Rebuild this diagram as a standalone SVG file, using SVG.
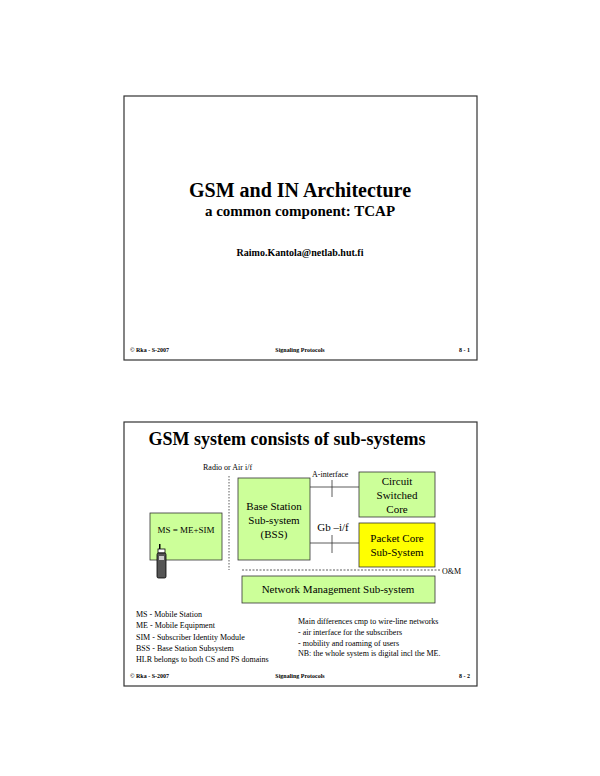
<svg xmlns="http://www.w3.org/2000/svg" width="600" height="776" viewBox="0 0 600 776">
<style>
text{font-family:"Liberation Serif",serif;fill:#000}
.frame{fill:#fff;stroke:#333;stroke-width:1.2}
.box{fill:#ccff99;stroke:#333;stroke-width:0.8}
.ft{font-size:6px;font-weight:bold}
.n{font-size:11px;text-anchor:middle}
.s{font-size:8px}
.l{stroke:#333;stroke-width:0.8;fill:none}
</style>
<rect width="600" height="776" fill="#fff"/>
<g id="slide1">
<rect class="frame" x="124" y="96" width="353" height="264"/>
<text x="300" y="197" font-size="20" font-weight="bold" text-anchor="middle">GSM and IN Architecture</text>
<text x="300" y="216" font-size="15" font-weight="bold" text-anchor="middle">a common component: TCAP</text>
<text x="300" y="256" font-size="10" font-weight="bold" text-anchor="middle">Raimo.Kantola@netlab.hut.fi</text>
<text class="ft" x="130" y="352">© Rka - S-2007</text>
<text class="ft" x="300" y="352" text-anchor="middle">Signaling Protocols</text>
<text class="ft" x="470" y="352" text-anchor="end">8 - 1</text>
</g>
<g id="slide2">
<rect class="frame" x="124" y="422" width="353" height="264"/>
<text x="287" y="445" font-size="18" font-weight="bold" text-anchor="middle">GSM system consists of sub-systems</text>
<text class="s" x="203" y="470">Radio or Air i/f</text>
<text class="ft" x="130" y="678">© Rka - S-2007</text>
<text class="ft" x="300" y="678" text-anchor="middle">Signaling Protocols</text>
<text class="ft" x="470" y="678" text-anchor="end">8 - 2</text>
</g>
<g id="connectors">
<line class="l" x1="229" y1="476" x2="229" y2="570" stroke-dasharray="1.5,1.5"/>
<line class="l" x1="310" y1="487" x2="359" y2="487"/>
<line class="l" x1="332" y1="480" x2="332" y2="497"/>
<line class="l" x1="310" y1="543" x2="359" y2="543"/>
<line class="l" x1="332" y1="535" x2="332" y2="553"/>
<line class="l" x1="242" y1="570" x2="440" y2="570" stroke-dasharray="2,1.5"/>
<text class="s" x="312" y="477">A-interface</text>
<text class="n" x="333" y="531" font-size="10">Gb –i/f</text>
<text class="s" x="442" y="574">O&amp;M</text>
</g>
<g id="ms">
<rect class="box" x="150" y="513" width="72" height="47"/>
<text x="186" y="533" font-size="9" text-anchor="middle">MS = ME+SIM</text>
<g id="phone">
<rect x="159" y="544" width="1.5" height="8" fill="#000"/>
<rect x="158" y="549" width="7" height="4" fill="#fff" stroke="#000" stroke-width="0.8"/>
<rect x="157" y="553" width="9" height="25" rx="1.5" fill="#555" stroke="#000" stroke-width="0.8"/>
<rect x="159" y="556" width="5" height="4" fill="#ccc"/>
</g>
</g>
<g id="bss">
<rect class="box" x="238" y="478" width="72" height="82"/>
<text class="n" x="274" y="510">Base Station</text>
<text class="n" x="274" y="524">Sub-system</text>
<text class="n" x="274" y="538">(BSS)</text>
</g>
<g id="cs">
<rect class="box" x="359" y="472" width="76" height="45"/>
<text class="n" x="397" y="485">Circuit</text>
<text class="n" x="397" y="499">Switched</text>
<text class="n" x="397" y="513">Core</text>
</g>
<g id="pc">
<rect x="359" y="523" width="76" height="44" fill="#ffff00" stroke="#333" stroke-width="0.8"/>
<text class="n" x="397" y="542">Packet Core</text>
<text class="n" x="397" y="556">Sub-System</text>
</g>
<g id="nms">
<rect class="box" x="242" y="576" width="193" height="27"/>
<text class="n" x="338" y="593" font-size="10">Network Management Sub-system</text>
</g>
<g id="legend" font-size="8">
<text class="s" x="136" y="617">MS - Mobile Station</text>
<text class="s" x="136" y="628">ME - Mobile Equipment</text>
<text class="s" x="136" y="640">SIM - Subscriber Identity Module</text>
<text class="s" x="136" y="651">BSS - Base Station Subsystem</text>
<text class="s" x="136" y="662">HLR belongs to both CS and PS domains</text>
<text class="s" x="298" y="624">Main differences cmp to wire-line networks</text>
<text class="s" x="298" y="635">- air interface for the subscribers</text>
<text class="s" x="298" y="646">- mobility and roaming of users</text>
<text class="s" x="298" y="656">NB: the whole system is digital incl the ME.</text>
</g>
</svg>
